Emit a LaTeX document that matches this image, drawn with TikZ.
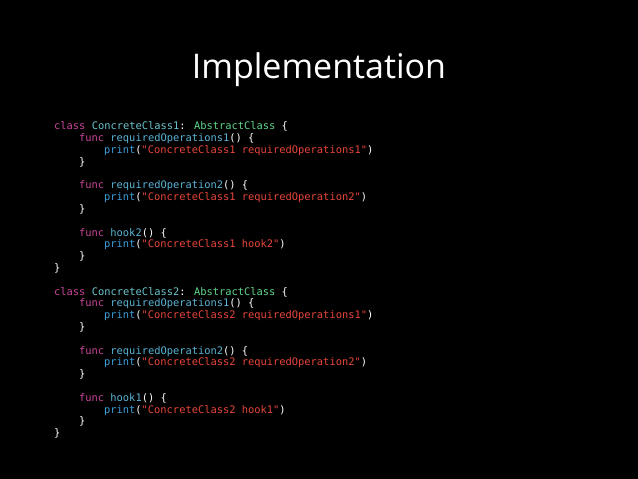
\documentclass[tikz,border=0pt]{standalone}
\usepackage{fontspec}
\setmainfont{Open Sans}
\newfontfamily\codefont{DejaVu Sans Mono}
\definecolor{kw}{HTML}{C8479A}
\definecolor{ty}{HTML}{6CC4CE}
\definecolor{sup}{HTML}{5ED68C}
\definecolor{fn}{HTML}{5AB4D6}
\definecolor{pr}{HTML}{3C9FDC}
\definecolor{st}{HTML}{E8463C}
\newcommand{\cK}[1]{\textcolor{kw}{#1}}
\newcommand{\cT}[1]{\textcolor{ty}{#1}}
\newcommand{\cA}[1]{\textcolor{sup}{#1}}
\newcommand{\cF}[1]{\textcolor{fn}{#1}}
\newcommand{\cP}[1]{\textcolor{pr}{#1}}
\newcommand{\cS}[1]{\textcolor{st}{#1}}
\newcommand{\cI}{\hspace*{24.96pt}}
\begin{document}
\begin{tikzpicture}[x=1pt,y=1pt,
  code/.style={anchor=base west,inner sep=0pt,text=white,font=\codefont\fontsize{10.4}{12}\selectfont}]
\fill[black] (0,0) rectangle (638,479);
\useasboundingbox (0,0) rectangle (638,479);
\node[text=white,font=\fontsize{34}{40}\selectfont,anchor=base] (title) at (319,400) {Implementation};
\foreach \txt [count=\i from 0] in {
 {\cK{class} \cT{ConcreteClass1}: \cA{AbstractClass} \{},
 {\cI\cK{func} \cF{requiredOperations1}() \{},
 {\cI\cI\cP{print}(\cS{"ConcreteClass1 requiredOperations1"})},
 {\cI\}},
 {},
 {\cI\cK{func} \cF{requiredOperation2}() \{},
 {\cI\cI\cP{print}(\cS{"ConcreteClass1 requiredOperation2"})},
 {\cI\}},
 {},
 {\cI\cK{func} \cF{hook2}() \{},
 {\cI\cI\cP{print}(\cS{"ConcreteClass1 hook2"})},
 {\cI\}},
 {\}},
 {},
 {\cK{class} \cT{ConcreteClass2}: \cA{AbstractClass} \{},
 {\cI\cK{func} \cF{requiredOperations1}() \{},
 {\cI\cI\cP{print}(\cS{"ConcreteClass2 requiredOperations1"})},
 {\cI\}},
 {},
 {\cI\cK{func} \cF{requiredOperation2}() \{},
 {\cI\cI\cP{print}(\cS{"ConcreteClass2 requiredOperation2"})},
 {\cI\}},
 {},
 {\cI\cK{func} \cF{hook1}() \{},
 {\cI\cI\cP{print}(\cS{"ConcreteClass2 hook1"})},
 {\cI\}},
 {\}}}
 \node[code] (line\i) at (54,{479-130-11.8*\i}) {\txt};
\end{tikzpicture}
\end{document}
